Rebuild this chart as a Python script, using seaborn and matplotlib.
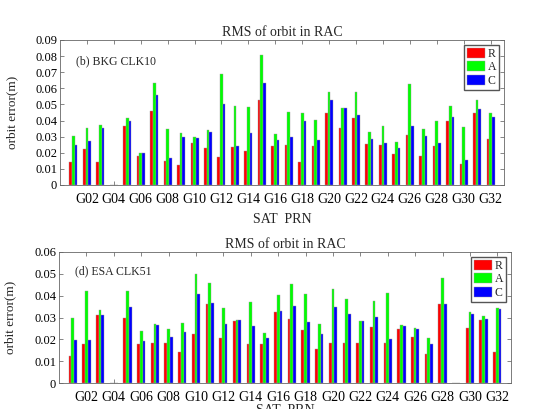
import numpy as np
import pandas as pd
import matplotlib
matplotlib.use('Agg')
import matplotlib.pyplot as plt
import seaborn as sns

prn = ['G%02d' % i for i in range(1, 33)]
comps = ['R', 'A', 'C']

# (b) BKG CLK10
bkg_R = [0.0145, 0.0224, 0.0145, 0, 0.0369, 0.0183, 0.0460, 0.0150, 0.0127, 0.0263, 0.0228, 0.0172, 0.0237, 0.0210, 0.0527, 0.0243,
         0.0249, 0.0143, 0.0243, 0.0446, 0.0355, 0.0415, 0.0255, 0.0249, 0.0191, 0.0311, 0.0183, 0.0245, 0.0398, 0.0129, 0.0444, 0.0286]
bkg_A = [0.0305, 0.0355, 0.0373, 0, 0.0417, 0.0201, 0.0635, 0.0350, 0.0320, 0.0300, 0.0344, 0.0689, 0.0492, 0.0485, 0.0809, 0.0317,
         0.0456, 0.0444, 0.0405, 0.0579, 0.0481, 0.0579, 0.0330, 0.0369, 0.0268, 0.0624, 0.0346, 0.0396, 0.0490, 0.0357, 0.0527, 0.0448]
bkg_C = [0.0250, 0.0276, 0.0355, 0, 0.0398, 0.0201, 0.0556, 0.0166, 0.0300, 0.0293, 0.0326, 0.0504, 0.0241, 0.0320, 0.0633, 0.0278,
         0.0295, 0.0398, 0.0280, 0.0527, 0.0477, 0.0434, 0.0288, 0.0259, 0.0228, 0.0367, 0.0303, 0.0259, 0.0423, 0.0156, 0.0473, 0.0421]

# (d) ESA CLK51
esa_R = [0.0122, 0.0177, 0.0311, 0, 0.0299, 0.0177, 0.0183, 0.0185, 0.0140, 0.0226, 0.0363, 0.0205, 0.0282, 0.0180, 0.0177, 0.0324,
         0.0293, 0.0244, 0.0156, 0.0183, 0.0182, 0.0182, 0.0255, 0.0185, 0.0247, 0.0212, 0.0131, 0.0360, 0, 0.0252, 0.0290, 0.0144]
esa_A = [0.0298, 0.0420, 0.0333, 0, 0.0420, 0.0237, 0.0272, 0.0249, 0.0276, 0.0500, 0.0460, 0.0342, 0.0289, 0.0371, 0.0231, 0.0403,
         0.0453, 0.0409, 0.0272, 0.0429, 0.0383, 0.0285, 0.0377, 0.0414, 0.0267, 0.0253, 0.0208, 0.0482, 0, 0.0327, 0.0308, 0.0342]
esa_C = [0.0195, 0.0198, 0.0311, 0, 0.0347, 0.0191, 0.0267, 0.0209, 0.0234, 0.0409, 0.0368, 0.0272, 0.0289, 0.0260, 0.0205, 0.0328,
         0.0353, 0.0281, 0.0224, 0.0348, 0.0315, 0.0285, 0.0304, 0.0200, 0.0261, 0.0247, 0.0179, 0.0360, 0, 0.0316, 0.0293, 0.0337]

colors = {'R': '#ff0000', 'A': '#00ff00', 'C': '#0000ff'}

sns.set_style('ticks')
plt.rcParams['font.family'] = ['Liberation Serif', 'DejaVu Serif']


def long_df(r, a, c):
    df = pd.DataFrame({'PRN': prn, 'R': r, 'A': a, 'C': c})
    return df.melt(id_vars='PRN', var_name='comp', value_name='rms')


def draw(ax, df, ymax, tag, xlab_y):
    sns.barplot(data=df, x='PRN', y='rms', hue='comp', hue_order=comps, order=prn,
                palette=colors, width=0.6, gap=0, edgecolor='#9a9a9a', linewidth=0.3,
                saturation=1, ax=ax, errorbar=None)
    ax.set_xlim(-1, 32)
    ax.set_ylim(0, ymax)
    ax.set_yticks(np.arange(0, ymax + 1e-9, 0.01))
    ax.set_yticklabels(['0'] + ['%.2f' % v for v in np.arange(0.01, ymax + 1e-9, 0.01)], fontsize=9)
    ax.set_xticks(range(1, 32, 2))
    ax.set_xticklabels(prn[1::2], fontsize=10)
    ax.tick_params(direction='in', top=True, right=True, length=3, width=0.5, colors='#555555',
                   labelcolor='black', pad=2)
    ax.tick_params(axis='x', pad=6)
    for s in ax.spines.values():
        s.set_linewidth(0.6)
        s.set_color('#666666')
    ax.set_title('RMS of orbit in RAC', fontsize=10, pad=3)
    ax.set_ylabel('orbit error(m)', fontsize=9.5)
    ax.yaxis.set_label_coords(-0.095, 0.5)
    ax.set_xlabel('SAT  PRN', fontsize=10)
    ax.xaxis.set_label_coords(0.5, xlab_y)
    ax.text(0.035, 0.83, tag, transform=ax.transAxes, fontsize=8.5)
    leg = ax.get_legend()
    handles = leg.legend_handles
    labels = [t.get_text() for t in leg.get_texts()]
    ax.legend(handles, labels, loc='upper right', fontsize=8.5, frameon=True, fancybox=False,
              edgecolor='#555555', framealpha=1, handlelength=1.6, handleheight=0.9,
              handletextpad=0.2, labelspacing=0.15, borderpad=0.25, borderaxespad=0.4)


fig = plt.figure(figsize=(5.53, 4.09), dpi=100)
ax1 = fig.add_axes([60 / 553, 1 - 185 / 409, 444 / 553, 145 / 409])
ax2 = fig.add_axes([59 / 553, 1 - 383 / 409, 452 / 553, 131 / 409])

draw(ax1, long_df(bkg_R, bkg_A, bkg_C), 0.09, '(b) BKG CLK10', -0.19)
draw(ax2, long_df(esa_R, esa_A, esa_C), 0.06, '(d) ESA CLK51', -0.16)

fig.savefig('out.png', dpi=100)
